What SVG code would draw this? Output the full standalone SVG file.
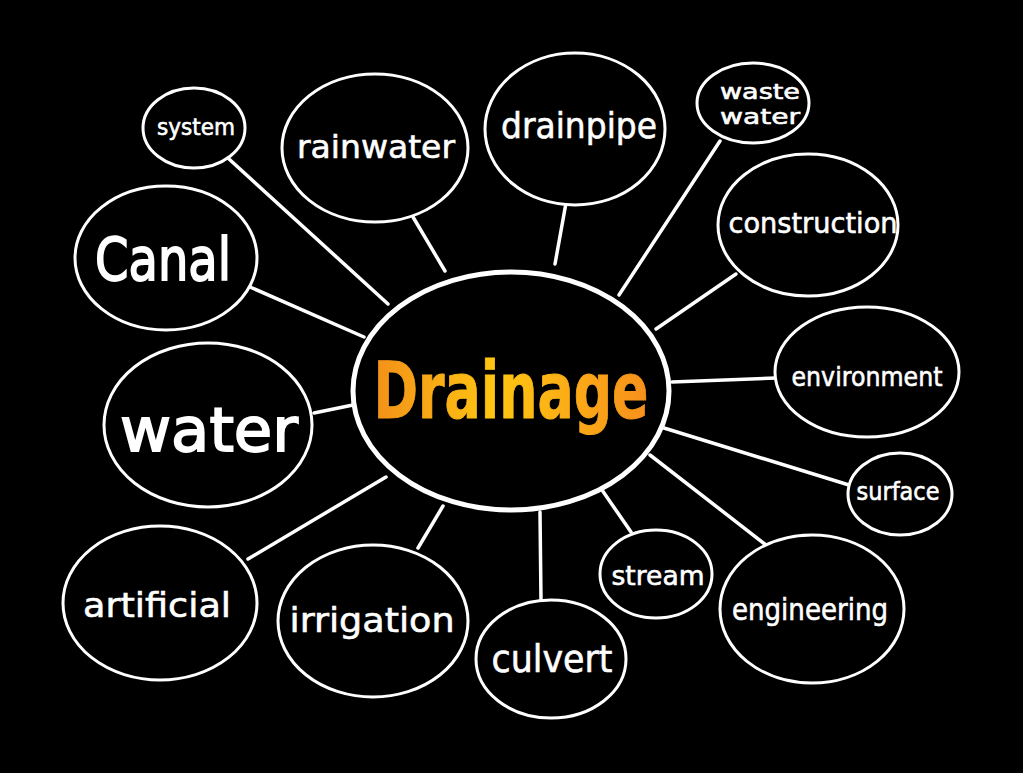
<svg xmlns="http://www.w3.org/2000/svg" width="1023" height="773" viewBox="0 0 1023 773">
  <defs>
    <linearGradient id="orangeGrad" x1="373" y1="0" x2="648" y2="0" gradientUnits="userSpaceOnUse">
      <stop offset="0" stop-color="#f39019"/>
      <stop offset="0.45" stop-color="#ffc612"/>
      <stop offset="1" stop-color="#f7901c"/>
    </linearGradient>
  </defs>
  <style>
    .node { fill: #000000; stroke: #ffffff; stroke-width: 3; }
    .hub { fill: #000000; stroke: #ffffff; stroke-width: 5; }
    .link { stroke: #ffffff; stroke-width: 3.5; stroke-linecap: round; fill: none; }
    .lbl { fill: #ffffff; stroke: #ffffff; stroke-width: 0.6; font-family: "DejaVu Sans", "Noto Sans", sans-serif; text-anchor: middle; }
    .big { stroke-width: 1.8; }
    .title { fill: url(#orangeGrad); stroke: url(#orangeGrad); stroke-width: 1; font-family: "DejaVu Sans", "Noto Sans", sans-serif; font-weight: bold; text-anchor: middle; }
  </style>
  <rect x="0" y="0" width="1023" height="773" fill="#000000"/>

  <g id="connectors">
    <line class="link" x1="229" y1="159" x2="388" y2="304"/>
    <line class="link" x1="413" y1="217" x2="445" y2="271"/>
    <line class="link" x1="566" y1="203" x2="555" y2="264"/>
    <line class="link" x1="720" y1="141" x2="619" y2="295"/>
    <line class="link" x1="736" y1="274" x2="656" y2="329"/>
    <line class="link" x1="776" y1="378" x2="672" y2="382"/>
    <line class="link" x1="849" y1="485" x2="664" y2="428"/>
    <line class="link" x1="766" y1="545" x2="650" y2="455"/>
    <line class="link" x1="631" y1="532" x2="602" y2="490"/>
    <line class="link" x1="541" y1="601" x2="540" y2="512"/>
    <line class="link" x1="418" y1="548" x2="443" y2="506"/>
    <line class="link" x1="248" y1="559" x2="386" y2="477"/>
    <line class="link" x1="314" y1="413" x2="353" y2="405"/>
    <line class="link" x1="250" y1="287" x2="364" y2="337"/>
  </g>

  <g id="node-drainage">
    <ellipse class="hub" cx="511" cy="391" rx="158" ry="119"/>
    <text class="title" x="511" y="418" font-size="78" textLength="275" lengthAdjust="spacingAndGlyphs">Drainage</text>
  </g>

  <g id="node-system">
    <ellipse class="node" cx="194" cy="128" rx="51" ry="40"/>
    <text class="lbl" x="196" y="135" font-size="23" textLength="78" lengthAdjust="spacingAndGlyphs">system</text>
  </g>

  <g id="node-rainwater">
    <ellipse class="node" cx="375" cy="148" rx="93" ry="74"/>
    <text class="lbl" x="376" y="158" font-size="32" textLength="158" lengthAdjust="spacingAndGlyphs">rainwater</text>
  </g>

  <g id="node-drainpipe">
    <ellipse class="node" cx="575" cy="129" rx="90" ry="76"/>
    <text class="lbl" x="579" y="138" font-size="35" textLength="156" lengthAdjust="spacingAndGlyphs">drainpipe</text>
  </g>

  <g id="node-wastewater">
    <ellipse class="node" cx="753" cy="103" rx="56" ry="40"/>
    <text class="lbl" x="760" y="99" font-size="21" textLength="80" lengthAdjust="spacingAndGlyphs">waste</text>
    <text class="lbl" x="760" y="124" font-size="21" textLength="80" lengthAdjust="spacingAndGlyphs">water</text>
  </g>

  <g id="node-construction">
    <ellipse class="node" cx="808" cy="225" rx="90" ry="71"/>
    <text class="lbl" x="813" y="233" font-size="28" textLength="169" lengthAdjust="spacingAndGlyphs">construction</text>
  </g>

  <g id="node-environment">
    <ellipse class="node" cx="867" cy="372" rx="92" ry="65"/>
    <text class="lbl" x="867" y="386" font-size="27" textLength="151" lengthAdjust="spacingAndGlyphs">environment</text>
  </g>

  <g id="node-surface">
    <ellipse class="node" cx="900" cy="494" rx="52" ry="41"/>
    <text class="lbl" x="898" y="500" font-size="24" textLength="83" lengthAdjust="spacingAndGlyphs">surface</text>
  </g>

  <g id="node-engineering">
    <ellipse class="node" cx="812" cy="609" rx="92" ry="74"/>
    <text class="lbl" x="810" y="620" font-size="30" textLength="156" lengthAdjust="spacingAndGlyphs">engineering</text>
  </g>

  <g id="node-stream">
    <ellipse class="node" cx="656" cy="574" rx="56" ry="44"/>
    <text class="lbl" x="658" y="585" font-size="27" textLength="93" lengthAdjust="spacingAndGlyphs">stream</text>
  </g>

  <g id="node-culvert">
    <ellipse class="node" cx="551" cy="659" rx="75" ry="59"/>
    <text class="lbl" x="552" y="672" font-size="37" textLength="121" lengthAdjust="spacingAndGlyphs">culvert</text>
  </g>

  <g id="node-irrigation">
    <ellipse class="node" cx="373" cy="621" rx="95" ry="76"/>
    <text class="lbl" x="372" y="632" font-size="34" textLength="165" lengthAdjust="spacingAndGlyphs">irrigation</text>
  </g>

  <g id="node-artificial">
    <ellipse class="node" cx="160" cy="603" rx="97" ry="77"/>
    <text class="lbl" x="157" y="617" font-size="34" textLength="148" lengthAdjust="spacingAndGlyphs">artificial</text>
  </g>

  <g id="node-water">
    <ellipse class="node" cx="208" cy="425" rx="104" ry="82"/>
    <text class="lbl big" x="209" y="451" font-size="60" textLength="178" lengthAdjust="spacingAndGlyphs">water</text>
  </g>

  <g id="node-canal">
    <ellipse class="node" cx="166" cy="258" rx="91" ry="72"/>
    <text class="lbl big" x="163" y="280" font-size="58" textLength="136" lengthAdjust="spacingAndGlyphs">Canal</text>
  </g>
</svg>
